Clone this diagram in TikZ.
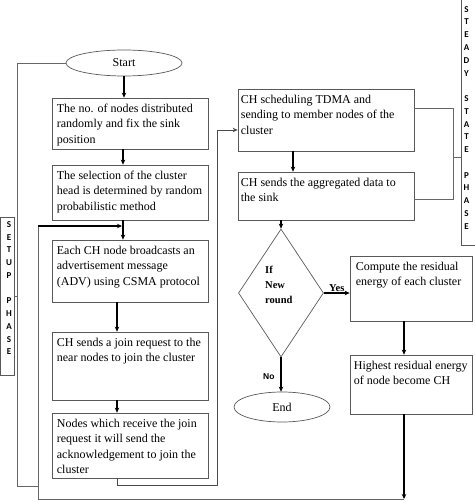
\documentclass[tikz,border=0pt]{standalone}
\usepackage{fontspec}
\setmainfont{Liberation Serif}
\newfontfamily\phasefont{Carlito}
\newfontfamily\labsans{Liberation Sans}
\usetikzlibrary{shapes.geometric,arrows.meta}
\begin{document}
\begin{tikzpicture}[x=1pt,y=-1pt,
  box/.style={draw=black!65, line width=0.7pt, rectangle, inner sep=0pt},
  txt/.style={anchor=north west, inner sep=0pt, align=left, font=\fontsize{12}{15.5}\selectfont},
  oval/.style={draw=black!65, line width=0.7pt, ellipse, inner sep=0pt, font=\fontsize{12}{14}\selectfont},
  arr/.style={-{Stealth[length=5pt,width=4.5pt]}, line width=1.1pt, black},
  thinline/.style={draw=black!60, line width=0.7pt},
  grayarr/.style={-{Stealth[length=5pt,width=4.5pt]}, draw=black!70, line width=0.8pt},
  phasetxt/.style={anchor=north, inner sep=0pt, align=center, font=\phasefont\bfseries\fontsize{9}{12.75}\selectfont},
  lab/.style={inner sep=0pt, font=\bfseries\fontsize{10.5}{15}\selectfont}
]
\useasboundingbox (0,0) rectangle (474,502);

% left column
\node[oval, minimum width=116pt, minimum height=26pt] (start) at (124,63) {Start};
\node[box, minimum width=156pt, minimum height=51pt] (b1) at (130,123.5) {};
\node[txt] (t1) at ([shift={(5pt,-6pt)}]b1.north west) {The no. of nodes distributed\\randomly and fix the sink\\position};
\node[box, minimum width=156pt, minimum height=55pt] (b2) at (130,192.5) {};
\node[txt] (t2) at ([shift={(5pt,-6pt)}]b2.north west) {The selection of the cluster\\head is determined by random\\probabilistic method};
\node[box, minimum width=156pt, minimum height=62pt] (b3) at (130,271) {};
\node[txt] (t3) at ([shift={(5pt,-6pt)}]b3.north west) {Each CH node broadcasts an\\advertisement message\\(ADV) using CSMA protocol};
\node[box, minimum width=156pt, minimum height=68pt] (b4) at (130,366) {};
\node[txt] (t4) at ([shift={(5pt,-6pt)}]b4.north west) {CH sends a join request to the\\near nodes to join the cluster};
\node[box, minimum width=156pt, minimum height=65pt] (b5) at (130,445.5) {};
\node[txt] (t5) at ([shift={(5pt,-6pt)}]b5.north west) {Nodes which receive the join\\request it will send the\\acknowledgement to join the\\cluster};

% right column
\node[box, minimum width=176pt, minimum height=62pt] (tdma) at (326,120) {};
\node[txt] (t6) at ([shift={(3pt,-6pt)}]tdma.north west) {CH scheduling TDMA and\\sending to member nodes of the\\cluster};
\node[box, minimum width=176pt, minimum height=48pt] (sink) at (326,196) {};
\node[txt] (t7) at ([shift={(3pt,-6pt)}]sink.north west) {CH sends the aggregated data to\\the sink};
\node[diamond, draw=black!65, line width=0.7pt, inner sep=0pt, minimum width=85pt, minimum height=128pt] (dia) at (281,293) {};
\node[lab, align=left, anchor=west] (q) at (265,285) {If\\New\\round};
\node[box, minimum width=122pt, minimum height=65pt] (comp) at (411,288.5) {};
\node[txt] (t8) at ([shift={(6pt,-6pt)}]comp.north west) {Compute the residual\\energy of each cluster};
\node[box, minimum width=122pt, minimum height=59pt] (high) at (411,384.5) {};
\node[txt] (t9) at ([shift={(4pt,-6pt)}]high.north west) {Highest residual energy\\of node become CH};
\node[oval, minimum width=96pt, minimum height=30pt] (end) at (282,407) {End};

% phase boxes
\node[box, minimum width=14pt, minimum height=158pt] (setup) at (7.5,296) {};
\node[phasetxt] (setupt) at ([shift={(1.5pt,-4.5pt)}]setup.north) {S\\E\\T\\U\\P\\[12.75pt]P\\H\\A\\S\\E};
\node[box, minimum width=19pt, minimum height=250pt] (steady) at (470.5,120) {};
\node[phasetxt] (steadyt) at ([shift={(-4pt,-11.5pt)}]steady.north) {S\\T\\E\\A\\D\\Y\\[12.75pt]S\\T\\A\\T\\E\\[12.75pt]P\\H\\A\\S\\E};

% coordinates
\coordinate (lc) at (17,486);
\coordinate (lj) at (38,486);
\coordinate (loopR) at (404,499);
\coordinate (loopL) at (38,499);
\coordinate (loopT) at (38,226);
\coordinate (j) at (122,226);
\coordinate (c1) at (217,485);
\coordinate (sb2) at (453,199);
\coordinate (sbm) at (453,157);

% main arrows
\draw[arr] (start.south) -- (start.south |- b1.north);
\draw[arr] ([xshift=-7pt]b1.south) -- ([xshift=-7pt]b2.north);
\draw[arr] ([xshift=-7pt]b2.south) -- ([xshift=-7pt]b3.north);
\draw[arr] ([xshift=-13pt]b3.south) -- ([xshift=-13pt]b4.north);
\draw[arr] ([xshift=-13pt]b4.south) -- ([xshift=-13pt]b5.north);
\draw[arr] ([xshift=-33pt]tdma.south) -- ([xshift=-33pt]sink.north);
\draw[arr] (sink.south -| dia.north) -- (dia.north);
\draw[arr] (dia.east) -- (dia.east -| comp.west) node[midway, above=0.5pt, inner sep=0pt, font=\bfseries\fontsize{10.5}{12}\selectfont] {Yes};
\draw[arr] (dia.south) -- (dia.south |- end.north) node[pos=0.57, left=6pt, inner sep=0pt, font=\labsans\bfseries\fontsize{8.5}{10}\selectfont] {No};
\draw[arr] ([xshift=-7pt]comp.south) -- ([xshift=-7pt]high.north);
\draw[arr] ([xshift=-7pt]high.south) -- (loopR);

% loop back
\draw[thinline, line width=1pt] (loopR) -- (loopL) -- (loopT);
\draw[arr] (loopT) -- (j);

% setup bracket
\draw[thinline] (start.west) -| (lc) -- (lj);
\draw[thinline] (setup.east) -- (setup.east -| lc);

% b5 to tdma
\draw[grayarr] ([xshift=-13pt]b5.south) |- (c1) |- ([yshift=-10pt]tdma.west);

% steady bracket
\draw[thinline] ([yshift=12pt]tdma.east) -| (sb2) -- ([yshift=-3pt]sink.east);
\draw[thinline] (sbm) -- (sbm -| steady.west);
\end{tikzpicture}
\end{document}
